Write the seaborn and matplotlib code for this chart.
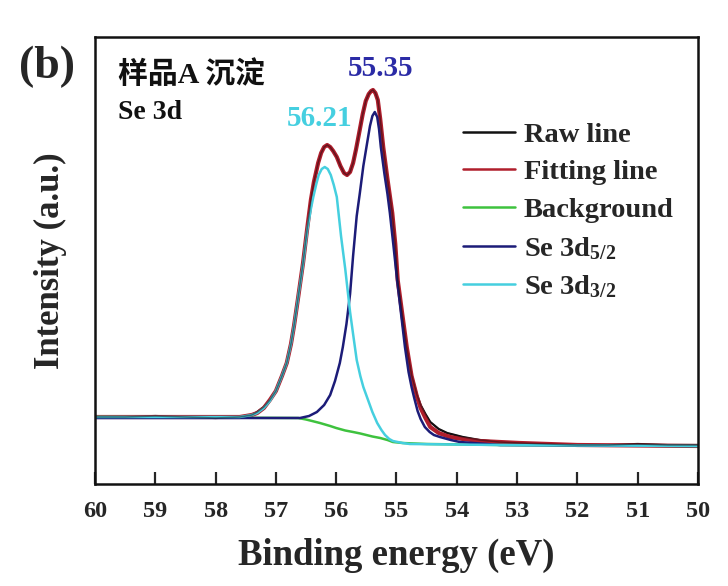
import numpy as np
import pandas as pd
import matplotlib
matplotlib.use("Agg")
import matplotlib.pyplot as plt
import seaborn as sns

# ---- data (binding energy in eV, intensity in a.u.) ----
fit_E = [60.0, 57.6, 57.4, 57.31, 57.2, 57.1, 57.0, 56.9, 56.82, 56.75, 56.7, 56.63, 56.55,
         56.48, 56.42, 56.37, 56.30, 56.25, 56.2, 56.15, 56.1, 56.05, 55.99, 55.93, 55.87,
         55.82, 55.77, 55.72, 55.67, 55.61, 55.56, 55.51, 55.46, 55.42, 55.39, 55.35, 55.31,
         55.27, 55.22, 55.15, 55.07, 55.02, 54.98, 54.9, 54.83, 54.75, 54.66, 54.6, 54.52,
         54.44, 54.3, 54.11, 53.9, 53.62, 52.95, 52.0, 50.0]
fit_I = [67, 67, 69, 71, 76, 84, 93, 108, 121, 140, 158, 187, 221,
         256, 284, 302, 321, 331, 337, 339, 337, 333, 327, 318, 311,
         309, 312, 321, 335, 354, 370, 383, 390, 393, 394, 391, 384,
         365, 337, 305, 271, 240, 204, 168, 137, 108, 87, 76, 66,
         57, 51, 47, 45, 43, 41, 39, 38]

raw_E = [60.0, 59.5, 59.0, 58.5, 58.0, 57.6, 57.4, 57.31, 57.2, 57.1, 57.0, 56.9, 56.82,
         56.75, 56.7, 56.63, 56.55, 56.48, 56.42, 56.37, 56.30, 56.25, 56.2, 56.15, 56.1,
         56.05, 55.99, 55.93, 55.87, 55.82, 55.77, 55.72, 55.67, 55.61, 55.56, 55.51, 55.46,
         55.42, 55.39, 55.35, 55.31, 55.27, 55.22, 55.15, 55.07, 55.02, 54.98, 54.9, 54.83,
         54.75, 54.66, 54.6, 54.52, 54.44, 54.3, 54.16, 53.9, 53.62, 53.3, 52.95, 52.5,
         52.0, 51.5, 51.0, 50.5, 50.0]
raw_I = [67, 67, 68, 67, 66, 67, 69, 72, 77, 84, 93, 108, 121,
         140, 158, 187, 221, 256, 284, 302, 321, 331, 337, 339, 337,
         333, 327, 318, 311, 309, 312, 321, 335, 354, 370, 383, 390,
         393, 394, 391, 384, 365, 337, 305, 271, 240, 204, 168, 137,
         109, 89, 79, 70, 62, 55, 51, 47, 44, 42, 41, 40,
         39, 39, 40, 39, 39]

bg_E = [60.0, 56.63, 56.5, 56.4, 56.27, 56.1, 56.0, 55.85, 55.72, 55.6, 55.5, 55.4, 55.27,
        55.15, 55.06, 54.9, 54.5, 53.28, 50.0]
bg_I = [67, 66, 64.5, 63, 61, 58, 56, 53.5, 52, 50.5, 49, 47.5, 46,
        44, 42, 41, 40, 39, 38]

d52_E = [60.0, 56.6, 56.45, 56.32, 56.2, 56.10, 56.02, 55.94, 55.89, 55.83, 55.77, 55.72,
         55.66, 55.61, 55.55, 55.49, 55.44, 55.40, 55.36, 55.32, 55.29, 55.26, 55.2, 55.15,
         55.11, 55.05, 54.99, 54.92, 54.86, 54.8, 54.75, 54.71, 54.65, 54.6, 54.53, 54.45,
         54.38, 54.28, 54.1, 53.95, 53.28, 50.0]
d52_I = [66, 66, 68, 72, 79, 89, 103, 121, 137, 160, 190, 228,
         268, 290, 318, 340, 358, 368, 372, 367, 355, 337, 310, 290,
         271, 238, 204, 168, 137, 112, 97, 87, 73, 65, 57, 52,
         49, 47, 44, 42, 39, 38]

d32_E = [60.0, 58.59, 57.6, 57.4, 57.31, 57.2, 57.1, 57.0, 56.9, 56.82, 56.75, 56.7, 56.63,
         56.55, 56.48, 56.42, 56.38, 56.33, 56.29, 56.24, 56.19, 56.14, 56.09, 56.04, 55.99,
         55.92, 55.85, 55.77, 55.72, 55.66, 55.6, 55.55, 55.49, 55.4, 55.32, 55.25, 55.19,
         55.12, 55.06, 54.9, 54.78, 53.28, 50.0]
d32_I = [67, 67, 67, 69, 71, 76, 83, 93, 108, 121, 140, 158, 187,
         220, 254, 275, 287, 300, 309, 315, 317, 315, 309, 299, 287,
         248, 215, 172, 150, 124, 108, 97, 87, 72, 61, 54, 49,
         45, 43, 41, 40, 39, 38]

peak_labels = ["55.35", "56.21"]
x_ticks = [60, 59, 58, 57, 56, 55, 54, 53, 52, 51, 50]

sns.set_style("white")
plt.rcParams["font.family"] = ["Liberation Serif", "Noto Sans CJK SC", "DejaVu Sans"]
plt.rcParams["font.weight"] = "bold"
plt.rcParams["mathtext.fontset"] = "custom"
plt.rcParams["mathtext.rm"] = "Liberation Serif:bold"
plt.rcParams["mathtext.it"] = "Liberation Serif:bold"
plt.rcParams["mathtext.bf"] = "Liberation Serif:bold"
plt.rcParams["mathtext.default"] = "rm"

fig = plt.figure(figsize=(7.28, 5.86), dpi=100)
ax = fig.add_axes([95 / 728, 1 - 484 / 586, 603 / 728, 447 / 586])

series = [
    ("Raw line", raw_E, raw_I, "#111111", 1.6),
    ("Fitting line", fit_E, fit_I, "#b01e2c", 3.0),
    ("Background", bg_E, bg_I, "#3ec23e", 1.8),
    ("Se 3d$_{5/2}$", d52_E, d52_I, "#1c1c78", 1.8),
    ("Se 3d$_{3/2}$", d32_E, d32_I, "#45cfdf", 1.8),
]
for name, E, I, col, lw in series:
    df = pd.DataFrame({"E": E, "I": I})
    sns.lineplot(data=df, x="E", y="I", ax=ax, color=col, linewidth=lw,
                 sort=False, label=name, estimator=None)
# raw line again on top (thin) to darken the fitted curve like the original
sns.lineplot(data=pd.DataFrame({"E": raw_E, "I": raw_I}), x="E", y="I", ax=ax,
             color="#1a0a10", linewidth=1.1, alpha=0.5, sort=False, estimator=None)

ax.set_xlim(60, 50)
ax.set_ylim(0, 447)
ax.set_xticks(x_ticks)
ax.set_xticklabels([str(t) for t in x_ticks])
ax.set_yticks([])
ax.tick_params(axis="x", direction="in", length=9, width=1.6, labelsize=17.5, pad=12,
               bottom=True, top=False)
for lbl in ax.get_xticklabels():
    lbl.set_fontweight("bold")
for s in ax.spines.values():
    s.set_linewidth(1.8)
    s.set_color("#111111")

ax.set_xlabel("Binding energy (eV)", fontsize=26.5, fontweight="bold", labelpad=12)
ax.set_ylabel("Intensity (a.u.)", fontsize=25, fontweight="bold", labelpad=20)

ax.text(55.27, 416, peak_labels[0], color="#2b2ba6", fontsize=21, fontweight="bold",
        ha="center", va="center")
ax.text(56.27, 366, peak_labels[1], color="#45cfe0", fontsize=21, fontweight="bold",
        ha="center", va="center")

ax.text(0.038, 0.915, "样品A 沉淀", transform=ax.transAxes, fontsize=21.5,
        fontweight="bold", ha="left", va="center", color="#111111")
ax.text(0.038, 0.832, "Se 3d", transform=ax.transAxes, fontsize=20,
        fontweight="bold", ha="left", va="center", color="#111111")

fig.text(0.065, 0.886, "(b)", fontsize=33, fontweight="bold", ha="center", va="center")

leg = ax.legend(loc="upper left", bbox_to_anchor=(0.61, 0.81), frameon=False,
                prop={"weight": "bold", "size": 20.5}, handlelength=1.82,
                handletextpad=0.32, labelspacing=0.41, borderpad=0, borderaxespad=0)
for h in leg.get_lines():
    h.set_linewidth(1.8)
    h.set_alpha(1)

fig.savefig("out.png", dpi=100, facecolor="white")
